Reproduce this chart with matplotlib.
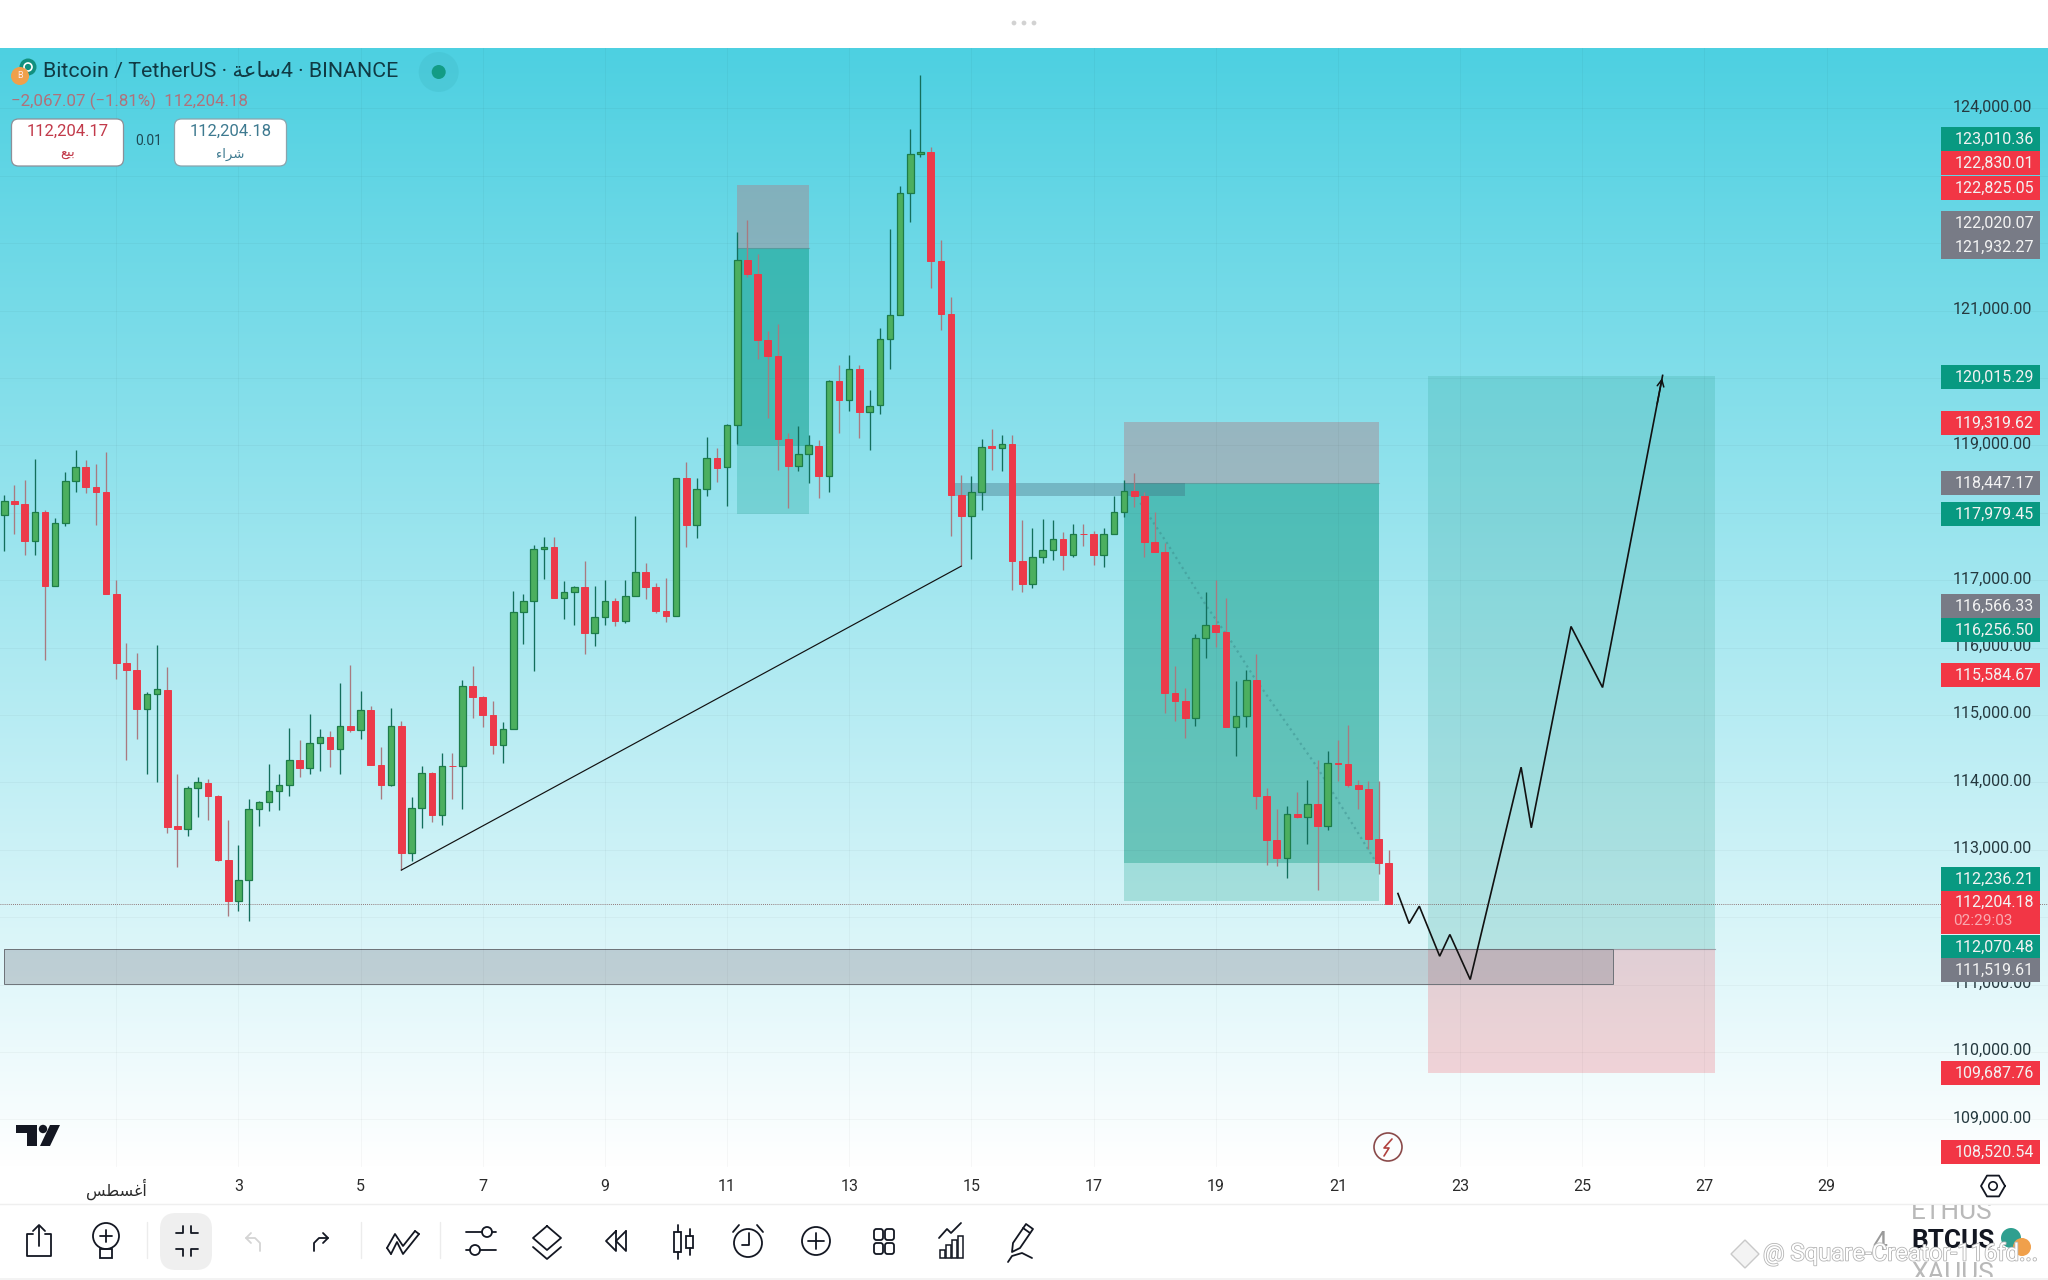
import numpy as np
import matplotlib
matplotlib.use("Agg")
import matplotlib.pyplot as plt
from matplotlib.patches import Rectangle, Circle, FancyBboxPatch, Polygon
from matplotlib.transforms import ScaledTranslation
import matplotlib.patheffects as pe

# ---------- data ----------
opens = [117970,118170,118130,117590,118020,116920,117850,118470,118680,118380,118310,116790,115770,115670,115090,115320,115370,113350,113310,113920,
114000,113800,112850,112240,112560,113610,113710,113870,113970,114330,114210,114590,114670,114500,114840,114780,115080,114260,113970,114840,
112950,113620,114140,113520,114250,114240,115430,115270,115000,114560,114800,116530,116700,117470,117490,116740,116830,116900,116220,116460,
116690,116400,116770,117130,116900,116540,116470,118520,117820,118350,118820,118680,119310,121750,121540,120570,120330,119100,118690,118870,
119000,118550,119950,119680,120140,119500,119600,120580,120930,122750,123320,123350,121740,120950,118270,117960,118310,118990,118970,119020,
117290,116940,117350,117450,117620,117380,117690,117680,117380,117690,118020,118330,118250,117570,117420,115330,115210,114960,116150,116330,
116230,114820,114990,115520,113800,113140,112880,113540,113490,113680,113360,114290,114280,113960,113910,113160,112810]
highs = [118270,118420,118490,118800,118050,117930,118610,118930,118790,118720,118900,117010,116070,115920,115350,116040,115720,114120,113950,114080,
114050,113810,113440,113080,113760,113720,114280,114120,114810,114630,115020,114790,114760,115480,115750,115360,115140,114520,115110,114910,
113790,114240,114150,114440,114440,115520,115730,115280,115210,114900,116840,116800,117520,117640,117640,116990,116920,117280,116920,117000,
116740,117000,117960,117250,116960,117040,118520,118760,118520,119120,118960,119320,122170,122350,121840,120700,120800,119190,119290,119160,
119080,119970,120190,120340,120200,119830,120750,122210,122850,123690,124490,123430,122050,121210,118560,118550,119090,119240,119160,119150,
117900,117780,117910,117900,117710,117840,117830,117730,117780,118250,118490,118590,118310,118010,117560,115730,115400,116200,116820,117010,
116740,115500,115670,115900,113920,113610,113650,113860,114030,114340,114460,114630,114850,114040,114020,114020,113000]
lows = [117430,117690,117380,117380,115820,116910,117800,118310,118300,117820,116790,115530,114330,114650,114130,114000,113250,112750,113210,113490,
113440,112840,112020,112090,111950,113350,113570,113590,113800,114080,114130,114170,114230,114130,114750,114640,114260,113760,113950,112700,
112830,113320,113420,113370,113760,113600,114960,114820,114430,114290,114800,116050,115650,117020,116730,116420,116330,115900,116020,116340,
116320,116370,116770,116720,116510,116380,116470,117490,117630,118250,118460,118100,119020,121500,120290,119410,118640,118080,118620,118450,
118220,118310,119190,119510,119110,118940,119460,120130,120930,122320,123280,121340,120720,117660,117210,117320,118040,118640,118620,116850,
116820,116880,117250,117300,117160,117350,117510,117230,117200,117690,117940,118090,117350,117420,115030,114910,114660,114840,115840,116010,
114820,114390,114820,113610,112780,112760,112590,113470,113090,112400,113290,114020,113930,113610,113010,112640,112204.18]
closes = [118170,118130,117590,118020,116920,117850,118480,118680,118380,118310,116790,115770,115670,115090,115320,115380,113340,113310,113920,114000,
113800,112850,112240,112560,113610,113710,113870,113970,114330,114210,114590,114670,114500,114840,114780,115080,114260,113970,114840,112950,
113620,114140,113520,114240,114240,115430,115270,115000,114560,114800,116530,116700,117470,117490,116740,116830,116900,116220,116460,116690,
116400,116770,117130,116900,116540,116470,118520,117820,118350,118820,118670,119310,121750,121540,120570,120330,119100,118690,118870,119000,
118550,119950,119680,120140,119500,119590,120580,120930,122750,123320,123350,121740,120950,118270,117960,118310,118980,118970,119020,117290,
116940,117350,117450,117620,117380,117690,117680,117380,117690,118020,118330,118250,117570,117420,115330,115210,114960,116150,116330,116230,
114820,114990,115520,113800,113140,112880,113540,113490,113680,113360,114290,114280,113960,113910,113160,112810,112204.18]

day_ticks = [1,3,5,7,9,11,13,15,17,19,21,23,25,27,29]
month_label = "أغسطس"
price_ticks = list(range(109000,125000,1000))
hidden_price_labels = [112000,118000,120000,122000,123000]

current_price = 112204.18
tag_values = ["123,010.36","122,830.01","122,825.05","122,020.07","121,932.27","120,015.29","119,319.62","118,447.17",
              "117,979.45","116,566.33","116,256.50","115,584.67","112,236.21","112,070.48","111,519.61","109,687.76","108,520.54"]
tag_kinds = "grrkkgrkgkgrggkrr"
tag_rows = [139,163,188,223,247,377,423,483,514,606,630,675,879,947,970,1073,1152]

# position tools: first bar, last bar, stop, entry, partial, target
pos1 = (72, 79, 122860, 121932.27, 119000, 117979.45)
pos2 = (110, 135, 119345, 118447.17, 112810, 112236.21)
long_pos = (139.9, 168, 120030, 111530, 109687.76)
zone_big = (0, 158, 111535, 111015)
zone_small = (93.2, 116, 118447.17, 118250)
trend_x = [39, 94]
trend_y = [112700, 117210]
path_x = [136.9,138,139,141,142,144,149,150,153.9,157,162.9]
path_y = [112353,111908,112165,111423,111745,111077,114227,113328,116315,115410,120040]
bars_x = [111.6,114.2,118.1,120.4,122.7,128.9,134.8]
bars_y = [118150,117556,116616,116122,115578,114242,112808]

# ---------- helpers ----------
W, H = 2048, 1280
FORMS = {'أ':(0xFE83,0xFE84,None,None),'ا':(0xFE8D,0xFE8E,None,None),'ب':(0xFE8F,0xFE90,0xFE91,0xFE92),
         'ة':(0xFE93,0xFE94,None,None),'ء':(0xFE80,None,None,None),'ر':(0xFEAD,0xFEAE,None,None),
         'س':(0xFEB1,0xFEB2,0xFEB3,0xFEB4),'ش':(0xFEB5,0xFEB6,0xFEB7,0xFEB8),'ط':(0xFEC1,0xFEC2,0xFEC3,0xFEC4),
         'ع':(0xFEC9,0xFECA,0xFECB,0xFECC),'غ':(0xFECD,0xFECE,0xFECF,0xFED0),'ي':(0xFEF1,0xFEF2,0xFEF3,0xFEF4)}
def ar(s):
    out = []
    for k, c in enumerate(s):
        f = FORMS[c]
        prev = k > 0 and FORMS[s[k-1]][2] is not None
        nxt = k < len(s)-1 and f[2] is not None and FORMS[s[k+1]][1] is not None
        if prev and nxt: cp = f[3]
        elif prev: cp = f[1]
        elif nxt: cp = f[2]
        else: cp = f[0]
        out.append(chr(cp))
    return ''.join(reversed(out))

FONT = ['Roboto', 'DejaVu Sans']
plt.rcParams['font.family'] = FONT

fig = plt.figure(figsize=(W/100, H/100), dpi=100, facecolor='white')
TOP, BOT = 48, 1167
ax = fig.add_axes([0, 1-BOT/H, 1, (BOT-TOP)/H])
PX_I, PX_0 = 10.18, 4.3
PX_P, ROW_119 = 0.0674, 445.5
ax.set_axisbelow('line')

grad = np.linspace(0, 1, 512)[:, None]
c0, c1 = np.array([77, 208, 225])/255, np.array([255, 255, 255])/255
img = c0[None, None, :]*(1-grad[..., None]) + c1[None, None, :]*grad[..., None]
ax.imshow(img, extent=(0, 1, 0, 1), transform=ax.transAxes, aspect='auto', zorder=0, origin='upper')
ax.set_xlim(-PX_0/PX_I, (W-PX_0)/PX_I)
ax.set_ylim(119000-(BOT-ROW_119)/PX_P, 119000+(ROW_119-TOP)/PX_P)

# axes
day_pos = [11+6*(d-1) for d in day_ticks]
ax.set_xticks(day_pos)
ax.set_xticklabels([ar(month_label)]+[str(d) for d in day_ticks[1:]], fontsize=11.5, color='#2b2b2b')
ax.tick_params(axis='x', length=0, pad=8.5)
ax.set_yticks(price_ticks)
ax.set_yticklabels(["" if p in hidden_price_labels else f"{p:,.2f}" for p in price_ticks], fontsize=11.5, color='#25393f')
ax.yaxis.tick_right()
ax.tick_params(axis='y', length=0, pad=-68.6)
off = ScaledTranslation(0, 2/72, fig.dpi_scale_trans)
for lab in ax.get_yticklabels():
    lab.set_horizontalalignment('left')
    lab.set_transform(lab.get_transform()+off)
ax.grid(True, color='#000000', alpha=0.03, lw=0.8)
for s in ax.spines.values():
    s.set_visible(False)

GREEN, RED, GREY = '#089981', '#F23645', '#787B86'
def pos_rect(x0, x1, y0, y1, col, a, z=1, **kw):
    ax.add_patch(Rectangle((x0, y0), x1-x0, y1-y0, facecolor=col, alpha=a, edgecolor='none', zorder=z, **kw))

# short positions
for p in (pos1, pos2):
    x0, x1, stop, entry, part, tgt = p
    pos_rect(x0, x1, entry, stop, '#A8848C', 0.45)
    pos_rect(x0, x1, tgt, entry, GREEN, 0.23)
    pos_rect(x0, x1, part, entry, GREEN, 0.35)
    ax.plot([x0, x1], [entry, entry], color=GREY, alpha=0.45, lw=0.8, zorder=1.2)
ax.plot(bars_x, bars_y, color='#3c8d8d', alpha=0.5, ls=':', lw=1.6, zorder=1.3)

# long position
x0, x1, tgt, entry, stop = long_pos
pos_rect(x0, x1, entry, tgt, '#2fa394', 0.22)
pos_rect(x0, x1, stop, entry, RED, 0.2)
ax.plot([x0, x1], [entry, entry], color=GREY, alpha=0.6, lw=0.8, zorder=1.2)

# zones
x0, x1, t, b = zone_big
ax.add_patch(Rectangle((x0, b), x1-x0, t-b, facecolor=GREY, alpha=0.32, edgecolor='none', zorder=1.4))
ax.add_patch(Rectangle((x0, b), x1-x0, t-b, facecolor='none', edgecolor='#6d7278', lw=0.7, zorder=1.4))
x0, x1, t, b = zone_small
ax.add_patch(Rectangle((x0, b), x1-x0, t-b, facecolor='#3f6f80', alpha=0.37, edgecolor='none', zorder=1.4))

# current price
ax.axhline(current_price, color='#7a5050', lw=0.6, ls=(0, (1, 1.5)), zorder=2)

# candles
x = np.arange(len(opens))
o, h, l, c = map(np.array, (opens, highs, lows, closes))
up = c > o
ax.vlines(x[up], l[up], h[up], color='#136e5c', lw=0.95, zorder=3)
ax.vlines(x[~up], l[~up], h[~up], color='#a97a80', lw=0.95, zorder=3)
ax.bar(x[up], (c-o)[up], bottom=o[up], width=0.64, color='#4CAF5F', edgecolor='#1d7c48', lw=0.9, zorder=4)
ax.bar(x[~up], (c-o)[~up], bottom=o[~up], width=0.66, color='#EC3A4A', edgecolor='#EC3A4A', lw=0.7, zorder=4)

# drawings
ax.plot(trend_x, trend_y, color='#111111', lw=0.85, zorder=5)
ax.plot(path_x, path_y, color='#111111', lw=1.2, zorder=5, solid_joinstyle='miter')
ax.annotate('', xy=(path_x[-1], path_y[-1]), xytext=(path_x[-2]+ (path_x[-1]-path_x[-2])*0.9, path_y[-2]+(path_y[-1]-path_y[-2])*0.9),
            arrowprops=dict(arrowstyle='->', color='#111111', lw=1.1, mutation_scale=12), zorder=5)

# ---------- interface layer in pixels ----------
ui = fig.add_axes([0, 0, 1, 1], facecolor='none')
ui.set_xlim(0, W); ui.set_ylim(H, 0); ui.axis('off')
INK = '#131722'
def L(xs, ys, col=INK, lw=1.3, **kw):
    ui.plot(xs, ys, color=col, lw=lw, solid_capstyle='round', solid_joinstyle='round', **kw)
def Ci(cx, cy, r, col=INK, lw=1.3, fill='none', **kw):
    ui.add_patch(Circle((cx, cy), r, edgecolor=col, facecolor=fill, lw=lw, **kw))
def RR(x0, y0, w, h, fc='none', ec=INK, lw=1.3, r=3, **kw):
    ui.add_patch(FancyBboxPatch((x0+r, y0+r), w-2*r, h-2*r, boxstyle=f"round,pad={r},rounding_size={r}", fc=fc, ec=ec, lw=lw, **kw))

# top dots
for dx in (-10, 0, 10):
    Ci(1024+dx, 23, 2.4, col='none', lw=0, fill='#d2d2d2')

# header
Ci(28, 67, 8.5, col='none', lw=0, fill='#12907e')
Ci(28, 67, 4, col='white', lw=1.2)
Ci(20, 76, 9, col='none', lw=0, fill='#f0a04b')
ui.text(20, 76, 'B', fontsize=6.5, color='#ffe9e9', ha='center', va='center')
ui.text(43, 71.5, "Bitcoin / TetherUS · "+ar("ساعة")+"4 · BINANCE", fontsize=15.4, color='#103a44', va='center', family=FONT)
ui.text(11, 101, "−2,067.07 (−1.81%)  112,204.18", fontsize=12.2, color='#b0717a', va='center')
Ci(438.7, 72, 20, col='none', lw=0, fill='#3fb8c4', alpha=0.3)
Ci(438.7, 72, 7, col='none', lw=0, fill='#139c85')
RR(11.5, 119, 112, 47, fc='white', ec='#8c8f98', lw=0.9, r=7)
RR(174.5, 119, 112, 47, fc='white', ec='#8aa4ad', lw=0.9, r=7)
ui.text(67.5, 131, "112,204.17", fontsize=12, color='#c23a4a', ha='center', va='center')
ui.text(67.5, 154, ar("بيع"), fontsize=9.5, color='#c23a4a', ha='center', va='center', family=FONT)
ui.text(230.5, 131, "112,204.18", fontsize=12, color='#3e7a90', ha='center', va='center')
ui.text(230.5, 154, ar("شراء"), fontsize=9.5, color='#3e7a90', ha='center', va='center', family=FONT)
ui.text(148.5, 141, "0.01", fontsize=10, color='#1f4a55', ha='center', va='center')

# price tags
KIND = {'g': GREEN, 'r': RED, 'k': GREY}
for v, k, row in zip(tag_values, tag_kinds, tag_rows):
    ui.add_patch(Rectangle((1941, row-12), 99, 24, fc=KIND[k], ec='none', zorder=5))
    ui.text(2034, row, v, fontsize=11.5, color='#f3f3f3', ha='right', va='center', zorder=6)
ui.add_patch(Rectangle((1941, 891), 99, 43, fc=RED, ec='none', zorder=5))
ui.text(2034, 902, f"{current_price:,.2f}", fontsize=11.5, color='#f3f3f3', ha='right', va='center', zorder=6)
ui.text(1953, 921, "02:29:03", fontsize=11, color='#f9a9b0', ha='left', va='center', zorder=6)

# TradingView logo
ui.add_patch(Polygon([(16,1125),(37,1125),(37,1146),(27,1146),(27,1133),(16,1133)], fc='#131722', ec='none'))
Ci(43, 1129, 4.2, col='none', lw=0, fill='#131722')
ui.add_patch(Polygon([(50,1125),(60,1125),(50,1146),(40,1146)], fc='#131722', ec='none'))

# lightning
Ci(1388, 1147, 14, col='#8a4a4a', lw=1.2)
L([1392,1384,1389,1384], [1139,1148,1148,1156], col='#b0413e', lw=1.2)

# settings hexagon
a = np.deg2rad(np.arange(0, 361, 60))
L(1993+12*np.cos(a), 1186+12*np.sin(a), lw=1.3)
Ci(1993, 1186, 4.2, lw=1.2)

# bottom separators
ui.plot([0, W], [1204, 1204], color='#efefef', lw=1)
ui.add_patch(Rectangle((0, 1278), W, 2, fc='#f3f3f3', ec='none'))

# toolbar
RR(160, 1213, 52, 57, fc='#efefef', ec='none', r=16)
for sx in (147, 361, 440):
    L([sx, sx], [1222, 1258], col='#ececec', lw=1)
# share
L([33,27,27,51,51,45], [1234,1234,1256,1256,1234,1234])
L([39,39], [1246,1226]); L([33,39,45], [1231,1225,1231])
# bulb
Ci(106, 1236, 13); L([106,106], [1230,1242]); L([100,112], [1236,1236])
ui.add_patch(Rectangle((100,1249), 12, 9, fc='none', ec=INK, lw=1.3))
# shrink
L([176,183,183],[1233,1233,1226]); L([198,191,191],[1233,1233,1226])
L([176,183,183],[1249,1249,1256]); L([198,191,191],[1249,1249,1256])
# undo / redo
L([260,260,255,246],[1251,1243,1238,1238],col='#d4d4d4'); L([251,246,251],[1233,1238,1243],col='#d4d4d4')
L([314,314,319,328],[1251,1243,1238,1238]); L([323,328,323],[1233,1238,1243])
# ticks
L([387,395,403,415],[1248,1234,1246,1231]); L([391,397,403,419],[1254,1242,1254,1234]); L([387,391],[1248,1254]); L([415,419],[1231,1234])
# sliders
L([466,482],[1232,1232]); L([492,496],[1232,1232]); Ci(487,1232,5)
L([466,470],[1250,1250]); L([480,496],[1250,1250]); Ci(475,1250,5)
# layers
L([547,561,547,533,547],[1226,1238,1250,1238,1226]); L([533,547,561],[1247,1259,1247])
# rewind
L([616,606,616,616],[1231,1241,1251,1231]); L([626,616],[1231,1241]); L([616,626,626],[1241,1251,1231])
# candles
ui.add_patch(Rectangle((674,1232),7,20,fc='none',ec=INK,lw=1.3)); L([677.5,677.5],[1225,1232]); L([677.5,677.5],[1252,1259])
ui.add_patch(Rectangle((686,1236),7,12,fc='none',ec=INK,lw=1.3)); L([689.5,689.5],[1229,1236]); L([689.5,689.5],[1248,1255])
# alarm
Ci(748,1243,14); L([749,749,742],[1233,1245,1245]); L([733,739],[1232,1225]); L([763,757],[1232,1225])
# plus
Ci(816,1241,14); L([816,816],[1233,1249]); L([808,824],[1241,1241])
# grid
for gx in (874,885):
    for gy in (1229,1243):
        RR(gx,gy,9,11,r=2.5,lw=1.3)
# chart
for bx, by in ((940,1250),(946,1245),(952,1240),(958,1236)):
    ui.add_patch(Rectangle((bx,by),5,1258-by,fc='none',ec=INK,lw=1.1))
L([939,947,951,961],[1238,1229,1233,1223])
# pen
ui.add_patch(Polygon([(1013,1243),(1026,1224),(1033,1229),(1020,1248),(1012,1252)],fc='none',ec=INK,lw=1.3,joinstyle='round'))
L([1023,1030],[1228,1233]); L([1008,1012,1022,1032],[1262,1256,1253,1258])

# symbol list and watermark
clip = Rectangle((1880,1205), 168, 72, transform=ui.transData)
for txt, row, col, wt in (("ETHUS",1212,'#b9b9b9','normal'),("BTCUS",1241,'#131722','bold'),("XAUUS",1274,'#b9b9b9','normal')):
    t = ui.text(1911, row, txt, fontsize=18.8, color=col, weight=wt, va='center')
    t.set_clip_path(clip); t.set_clip_on(True)
ui.text(1880, 1243, "4", fontsize=19, color='#9a9a9a', ha='center', va='center')
Ci(2011, 1238, 10, col='none', lw=0, fill='#2f9f8f')
Ci(2022, 1247, 9, col='none', lw=0, fill='#f0a04b')
ui.add_patch(Polygon([(1745,1240),(1759,1254),(1745,1268),(1731,1254)], fc='#f3f3f3', ec='#c9c9c9', lw=1))
ui.text(1763, 1254, "@ Square-Creator-116fd...", fontsize=17.2, color='white', va='center',
        path_effects=[pe.withStroke(linewidth=1.2, foreground='#b5b5b5')])

fig.savefig('out.png', dpi=100, facecolor='white')
